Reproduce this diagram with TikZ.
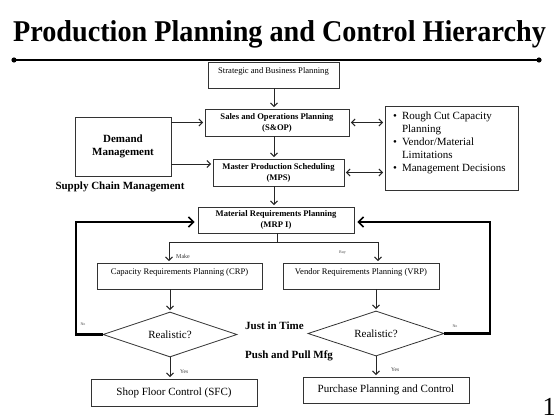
\documentclass[tikz,border=0pt]{standalone}
\usepackage{fontspec}
\setmainfont{Liberation Serif}
\usetikzlibrary{arrows.meta,shapes.geometric}
\begin{document}
\begin{tikzpicture}[x=1pt,y=-1pt,
  box/.style={draw=black!80, line width=0.8pt, inner sep=0pt, align=center},
  small/.style={font=\fontsize{8.6}{11}\selectfont},
  smallb/.style={font=\fontsize{8.6}{11}\selectfont\bfseries},
  mid/.style={font=\fontsize{11}{13}\selectfont},
  midb/.style={font=\fontsize{11}{13}\selectfont\bfseries},
  lbl/.style={inner sep=0pt},
  tinylbl/.style={inner sep=0pt, font=\fontsize{4}{4}\selectfont, text=black!70},
  smalllbl/.style={inner sep=0pt, font=\fontsize{5.5}{6}\selectfont, text=black!80},
  liftup/.style={text height=6pt, text depth=#1},
  plain/.style={draw=black!85, line width=0.8pt},
  arr/.style={draw=black!85, line width=0.8pt, -{Straight Barb[length=3.5pt,width=7pt,line width=1pt]}, shorten >=1.5pt},
  darr/.style={draw=black!85, line width=0.8pt, {Straight Barb[length=3.5pt,width=7pt,line width=1pt]}-{Straight Barb[length=3.5pt,width=7pt,line width=1pt]}, shorten >=1.5pt, shorten <=1.5pt},
  fb/.style={draw=black, line width=2.2pt, -{Straight Barb[length=5pt,width=10pt,line width=1.6pt]}, shorten >=3pt},
  decision/.style={diamond, draw=black!80, line width=0.8pt, inner sep=0pt, aspect=3}
]
\useasboundingbox (0,0) rectangle (560,420);
\fill[white] (0,0) rectangle (560,420);

% title and rule
\node[anchor=base, lbl, font=\fontsize{28.2}{30}\selectfont\bfseries] (title) at (279.5,41.7) {\scalebox{1}[1.07]{Production Planning and Control Hierarchy}};
\coordinate (rl) at (14,60);
\coordinate (rr) at (539,60);
\draw[line width=2pt] (rl) -- (rr);
\fill (rl) circle (2.6);
\fill (rr) circle (2.6);

% boxes
\node[box, small, liftup=9pt, minimum width=131pt, minimum height=26pt] (strat) at (273.5,75) {Strategic and Business Planning};
\node[box, smallb, minimum width=144pt, minimum height=27pt] (sop) at (277,122.5) {Sales and Operations Planning\\(S\&OP)};
\node[box, midb, minimum width=96pt, minimum height=59pt] (dem) at (123,146.5) {Demand\\Management};
\node[box, smallb, minimum width=131pt, minimum height=27pt] (mps) at (278.5,172.5) {Master Production Scheduling\\(MPS)};
\node[box, minimum width=133pt, minimum height=84pt] (rbox) at (451.5,148) {\parbox[c][72pt][t]{117pt}{\raggedright\fontsize{11}{13}\selectfont
\makebox[9pt][l]{\textbullet}Rough Cut Capacity\\
\hspace*{9pt}Planning\\
\makebox[9pt][l]{\textbullet}Vendor/Material\\
\hspace*{9pt}Limitations\\
\makebox[9pt][l]{\textbullet}Management Decisions}};
\node[lbl, midb] (scm) at (120,187) {Supply Chain Management};

\node[box, smallb, minimum width=156pt, minimum height=26pt] (mrp) at (276,220) {Material Requirements Planning\\(MRP I)};
\node[box, small, liftup=9pt, minimum width=165pt, minimum height=26pt] (crp) at (179.5,276) {Capacity Requirements Planning (CRP)};
\node[box, small, liftup=9pt, minimum width=156pt, minimum height=26pt] (vrp) at (361,276) {Vendor Requirements Planning (VRP)};
\node[decision, mid, minimum width=134pt, minimum height=45pt] (dl) at (170,334.5) {Realistic?};
\node[decision, mid, minimum width=136pt, minimum height=45pt] (dr) at (376,333.5) {Realistic?};
\node[box, mid, minimum width=166pt, minimum height=27pt] (sfc) at (174,392.5) {Shop Floor Control (SFC)};
\node[box, mid, minimum width=166pt, minimum height=26pt] (pur) at (386,390) {Purchase Planning and Control};

% labels
\node[smalllbl, font=\fontsize{6}{6}\selectfont, anchor=west] (make) at (176,256) {Make};
\node[tinylbl, anchor=west] (buy) at (339,253) {Buy};
\node[tinylbl] (nol) at (83,324) {No};
\node[tinylbl] (nor) at (455,326) {No};
\node[smalllbl, anchor=west] (yesl) at (180,372) {Yes};
\node[smalllbl, anchor=west] (yesr) at (391,370) {Yes};
\node[lbl, midb, anchor=west] (jit) at (245,326) {Just in Time};
\node[lbl, midb, anchor=west] (ppm) at (245,356) {Push and Pull Mfg};
\node[lbl, font=\fontsize{26}{26}\selectfont] (pg) at (549,407) {1};

% connectors
\coordinate (colx) at (274,0);
\draw[arr] (strat.south -| colx) -- (sop.north -| colx);
\draw[arr] (sop.south -| colx) -- (mps.north -| colx);
\draw[arr] (mps.south -| colx) -- (mrp.north -| colx);
\draw[arr] (dem.east |- sop.west) -- (sop.west);
\coordinate (dmy) at (0,164);
\draw[arr] (dem.east |- dmy) -- (mps.west |- dmy);
\draw[darr] (sop.east) -- (rbox.west |- sop.east);
\draw[darr] (mps.east) -- (rbox.west |- mps.east);

\coordinate (sp) at (277,242);
\coordinate (spl) at (169,242);
\coordinate (spr) at (378,242);
\draw[plain] (mrp.south -| sp) -- (sp);
\draw[plain] (spl) -- (spr);
\draw[arr] (spl) -- (spl |- crp.north);
\draw[arr] (spr) -- (spr |- vrp.north);
\draw[arr] (crp.south -| dl.north) -- (dl.north);
\draw[arr] (vrp.south -| dr.north) -- (dr.north);
\draw[arr] (dl.south) -- (dl.south |- sfc.north);
\draw[arr] (dr.south) -- (dr.south |- pur.north);

\coordinate (fbl) at (76,222);
\coordinate (fbr) at (490,222);
\draw[fb] (dl.west) -| (fbl) -- (mrp.west |- fbl);
\draw[fb] (dr.east) -| (fbr) -- (mrp.east |- fbr);
\end{tikzpicture}
\end{document}
